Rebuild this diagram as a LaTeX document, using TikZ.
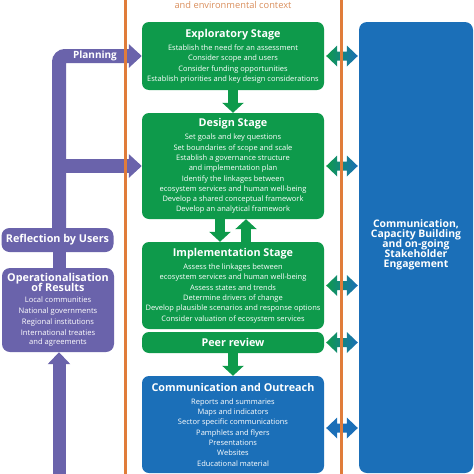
\documentclass[tikz,border=0pt]{standalone}
\usepackage{fontspec}
\setmainfont{Open Sans}
\usetikzlibrary{arrows.meta,calc}
\definecolor{grn}{HTML}{0E9A4B}
\definecolor{blu}{HTML}{1B6FB8}
\definecolor{pur}{HTML}{6A63AB}
\definecolor{orn}{HTML}{E07C3A}
\definecolor{ortxt}{HTML}{D98E5C}
\newcommand\tightlines{\lineskiplimit-10pt\relax}
\newcommand\stagetitle[1]{{\fontsize{10.8}{12}\selectfont\bfseries #1}}
\newcommand\usertitle[1]{{\fontsize{10.8}{10}\selectfont\bfseries #1}}
\newcommand\dblarr[4]{\shade[left color=#3, right color=#4] let \p1=(#1), \p2=(#2) in
  (\x1+2pt,\y1) -- (\x1+13pt,\y1+10.5pt) -- (\x1+13pt,\y1+4.5pt) -- (\x2-12pt,\y1+4.5pt)
  -- (\x2-12pt,\y1+10.5pt) -- (\x2-1pt,\y1) -- (\x2-12pt,\y1-10.5pt) -- (\x2-12pt,\y1-4.5pt)
  -- (\x1+13pt,\y1-4.5pt) -- (\x1+13pt,\y1-10.5pt) -- cycle;}
\begin{document}
\begin{tikzpicture}[x=1pt,y=-1pt,
  stagebox/.style={fill=grn, rounded corners=7pt, text=white, align=center, inner sep=0pt,
    minimum width=182pt, font=\fontsize{7.5}{10.3}\selectfont\tightlines},
  outbox/.style={stagebox, fill=blu},
  userbox/.style={fill=pur, rounded corners=8pt, text=white, align=center, inner sep=0pt,
    minimum width=112pt, font=\fontsize{7.6}{11}\selectfont\tightlines},
  greenarrow/.style={draw=grn, line width=10pt, -{Triangle[length=10pt,width=21pt]}},
  purplebar/.style={draw=pur, line width=14pt},
  purplearrow/.style={purplebar, -{Triangle[length=13pt,width=23pt]}},
  orangeline/.style={draw=orn, line width=3pt},
]
\useasboundingbox (0,0) rectangle (474,474);

\node[text=ortxt, font=\fontsize{9.3}{10}\selectfont] (ctx) at (233,5) {and environmental context};

\node[stagebox, minimum height=68pt] (explo) at (233,56) {\stagetitle{Exploratory Stage}\\[3pt]
Establish the need for an assessment\\ Consider scope and users\\ Consider funding opportunities\\
Establish priorities and key design considerations};

\node[stagebox, minimum height=106pt] (design) at (233,166) {\stagetitle{Design Stage}\\[3pt]
Set goals and key questions\\Set boundaries of scope and scale\\Establish a governance structure\\
and implementation plan\\Identify the linkages between\\ecosystem services and human well-being\\
Develop a shared conceptual framework\\Develop an analytical framework};

\node[stagebox, minimum height=87pt] (impl) at (233,285.5) {\stagetitle{Implementation Stage}\\[3pt]
Assess the linkages between\\ecosystem services and human well-being\\Assess states and trends\\
Determine drivers of change\\Develop plausible scenarios and response options\\
Consider valuation of ecosystem services};

\node[stagebox, minimum height=21pt] (peer) at (233,342.5) {\stagetitle{Peer review}};

\node[outbox, minimum height=97pt] (comm) at (233,424.5) {\stagetitle{Communication and Outreach}\\[3pt]
Reports and summaries\\Maps and indicators\\Sector specific communications\\Pamphlets and flyers\\
Presentations\\Websites\\Educational material};

\node[fill=blu, rounded corners=8pt, text=white, align=center, inner sep=0pt,
  minimum width=114pt, minimum height=451pt,
  font=\fontsize{10.4}{10}\selectfont\bfseries\tightlines]
  (big) at (416,247.5) {Communication,\\Capacity Building\\and on-going\\Stakeholder\\Engagement\\[-2pt]};

\node[userbox, minimum height=24pt, font=\fontsize{10.8}{11}\selectfont\bfseries] (refl) at (57.5,240) {Reflection by Users};

\node[userbox, minimum height=84pt] (oper) at (58,310) {\usertitle{Operationalisation}\\[-0.5pt]\usertitle{of Results}\\[0pt]
Local communities\\National governments\\Regional institutions\\International treaties\\[-2pt] and agreements};

% green flow arrows
\draw[greenarrow] (explo.south) -- (design.north);
\draw[greenarrow] ([xshift=-13pt]design.south) -- ([xshift=-13pt]impl.north);
\draw[greenarrow] ([xshift=13pt]impl.north) -- ([xshift=13pt]design.south);
\draw[greenarrow] (peer.south) -- (comm.north);

% purple planning paths
\coordinate (ptop) at ([xshift=1.5pt]refl.north);
\coordinate (pbot) at (59,476);
\draw[purplearrow, rounded corners=6pt] (ptop) |- (explo.west);
\draw[purplearrow] (ptop |- design.west) -- (design.west);
\draw[purplebar, line width=13pt] (ptop |- refl.south) -- (ptop |- oper.north);
\draw[purplearrow, line width=13pt, -{Triangle[length=12pt,width=22pt]}] (pbot) -- (ptop |- oper.south);
\node[font=\fontsize{10}{10}\selectfont\bfseries, text=white] (plan) at (95,55.5) {Planning};

% double arrows to stakeholder engagement
\dblarr{explo.east}{big.west}{grn}{blu}
\dblarr{design.east}{big.west}{grn}{blu}
\dblarr{impl.east}{big.west}{grn}{blu}
\dblarr{peer.east}{big.west}{grn}{blu}
\dblarr{$(comm.east)+(0,3.5)$}{big.west}{blu}{blu}

% orange frame lines
\draw[orangeline] (125,-2) -- (125,476);
\draw[orangeline] (341.5,-2) -- (341.5,476);
\end{tikzpicture}
\end{document}
